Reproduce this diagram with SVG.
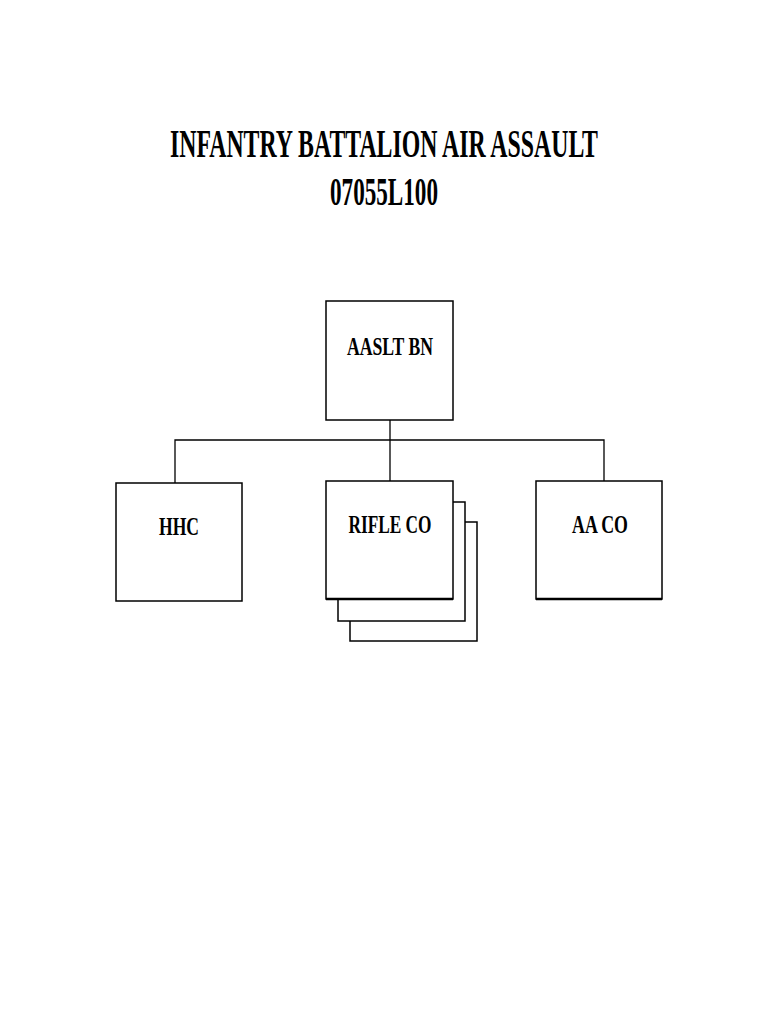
<svg xmlns="http://www.w3.org/2000/svg" width="768" height="1024" viewBox="0 0 768 1024">
<style>
text{font-family:"Liberation Serif","Times New Roman",serif;font-weight:bold;fill:#000;text-anchor:middle}
.t{font-size:39px}
.l{font-size:26px}
rect{fill:#fff;stroke:#000;stroke-width:1.5}
.c{fill:none;stroke:#000;stroke-width:1.3}
</style>
<rect x="0" y="0" width="768" height="1024" style="stroke:none"/>
<text class="t" x="384" y="157" textLength="428" lengthAdjust="spacingAndGlyphs">INFANTRY BATTALION AIR ASSAULT</text>
<text class="t" x="384" y="205" textLength="108" lengthAdjust="spacingAndGlyphs">07055L100</text>
<g id="connectors">
<path class="c" d="M390 420V481M175 483V440H604V481"/>
</g>
<g id="aaslt-bn"><rect x="326" y="301" width="127" height="119"/><text class="l" x="390" y="355" textLength="86" lengthAdjust="spacingAndGlyphs">AASLT BN</text></g>
<g id="hhc"><rect x="116" y="483" width="126" height="118"/><text class="l" x="179" y="535" textLength="40" lengthAdjust="spacingAndGlyphs">HHC</text></g>
<g id="rifle-co">
<rect x="350" y="522" width="127" height="119"/>
<rect x="338" y="502" width="127" height="119"/>
<rect x="326" y="481" width="127" height="118"/>
<path d="M326 599H453" stroke="#000" stroke-width="2.5"/>
<text class="l" x="390" y="533" textLength="83" lengthAdjust="spacingAndGlyphs">RIFLE CO</text></g>
<g id="aa-co"><rect x="536" y="481" width="126" height="118"/><path d="M536 599H662" stroke="#000" stroke-width="2.5"/><text class="l" x="600" y="533" textLength="56" lengthAdjust="spacingAndGlyphs">AA CO</text></g>
</svg>
